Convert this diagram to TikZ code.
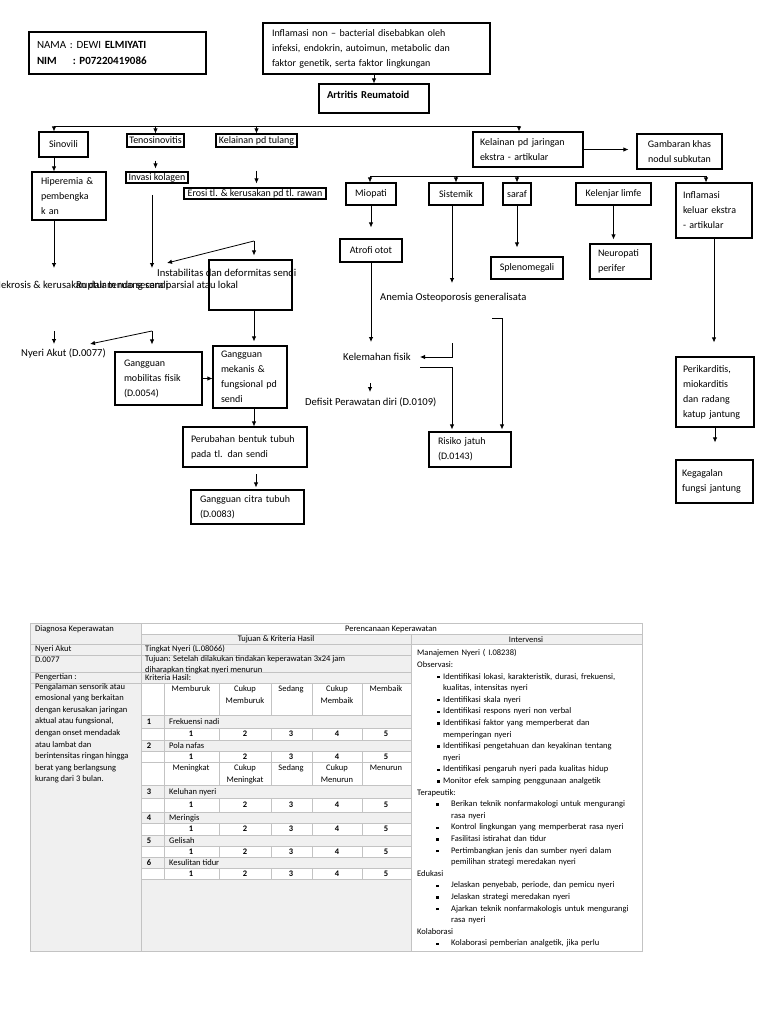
\documentclass[tikz,border=0pt]{standalone}
\usepackage{fontspec}
\setmainfont{Carlito}
\usetikzlibrary{arrows.meta,positioning}
\newcommand{\dfont}{\fontsize{10}{15}\selectfont}
\newcommand{\ffont}{\fontsize{10.6}{15}\selectfont}
\newcommand{\tfont}{\fontsize{8.5}{11.6}\selectfont}
\newcommand{\sqbul}{\rule[0.25ex]{2.4pt}{2.4pt}}
\newcommand{\obl}{\hspace*{20pt}\makebox[6pt][l]{\sqbul}}
\newcommand{\ocl}{\hspace*{26pt}}
\newcommand{\tbl}{\hspace*{19pt}\makebox[15pt][l]{\sqbul}}
\newcommand{\tcl}{\hspace*{34pt}}
\definecolor{cellgray}{RGB}{240,240,240}
\definecolor{gridgray}{RGB}{195,195,195}

\begin{document}
\begin{tikzpicture}[x=1pt,y=-1pt,>={Latex[length=5pt,width=4.5pt]},
    box/.style={draw, line width=1.1pt, inner ysep=0pt, font=\dfont},
    tight/.style={draw, line width=1.1pt, inner sep=0pt, font=\dfont},
    free/.style={inner sep=0pt, anchor=west, font=\ffont},
    link/.style={->, line width=0.8pt},
    cell/.style={inner sep=0pt, font=\tfont}]
    \useasboundingbox (0,0) rectangle (768,1024);
    \fill[white] (0,0) rectangle (768,1024);

    % boxes of the pathway
    \node(id) [box, font=\fontsize{11}{16}\selectfont, inner xsep=8pt, text width=161pt, minimum height=42pt, align=left] at (117.5,53) {NAMA : DEWI \textbf{ELMIYATI}\\\textbf{NIM\hspace{16pt}: P07220419086}};
    \node(cause) [box, inner xsep=9pt, text width=209pt, minimum height=51pt, align=left] at (376.5,48.5) {Inflamasi non – bacterial disebabkan oleh\\infeksi, endokrin, autoimun, metabolic dan\\faktor genetik, serta faktor lingkungan};
    \node(ra) [box, font=\fontsize{10.6}{15}\selectfont, inner xsep=8pt, text width=94pt, text depth=8pt, minimum height=29pt, align=left] at (374,98.5) {\textbf{Artritis Reumatoid}};
    \node(sinovili) [box, minimum width=49pt, minimum height=25pt] at (63.5,144.5) {Sinovili};
    \node(teno) [tight, minimum width=57pt, minimum height=13pt] at (155.5,140.5) {Tenosinovitis};
    \node(tulang) [tight, minimum width=81pt, minimum height=13pt] at (256.5,140.5) {Kelainan pd tulang};
    \node(jaringan) [box, inner xsep=7pt, text width=96pt, minimum height=35pt, align=left] at (528,149.5) {Kelainan pd jaringan\\ekstra - artikular};
    \node(nodul) [box, minimum width=85pt, minimum height=35pt, align=center] at (679.5,151.5) {Gambaran khas\\nodul subkutan};
    \node(hiper) [box, inner xsep=9pt, text width=56pt, minimum height=48pt, align=left] at (69,196) {Hiperemia \&\\pembengka\\k an};
    \node(invasi) [tight, minimum width=62pt, minimum height=11pt] at (157,177.5) {Invasi kolagen};
    \node(erosi) [tight, minimum width=142pt, minimum height=11pt] at (255,193.5) {Erosi tl. \& kerusakan pd tl. rawan};
    \node(instab) [draw, line width=1.1pt, minimum width=83pt, minimum height=50pt] at (250.5,285) {};
    \node(mobil) [box, inner xsep=9pt, text width=69pt, minimum height=53pt, align=left] at (158.5,378.5) {Gangguan\\mobilitas fisik\\(D.0054)};
    \node(mekanis) [box, inner xsep=8pt, text width=58pt, minimum height=62pt, align=left] at (250,377) {Gangguan\\mekanis \&\\fungsional pd\\sendi};
    \node(perubahan) [box, inner xsep=8pt, text width=108pt, minimum height=40pt, align=left] at (245,447) {Perubahan bentuk tubuh\\pada tl. dan sendi};
    \node(citra) [box, inner xsep=9pt, text width=95pt, minimum height=34pt, align=left] at (247.5,507) {Gangguan citra tubuh\\(D.0083)};
    \node(miopati) [box, minimum width=50pt, minimum height=22pt] at (371,194) {Miopati};
    \node(sistemik) [box, minimum width=54pt, minimum height=22pt] at (456,194) {Sistemik};
    \node(saraf) [box, minimum width=28pt, minimum height=22pt] at (517,194) {saraf};
    \node(limfe) [box, minimum width=75pt, minimum height=22pt] at (613.5,194) {Kelenjar limfe};
    \node(inflam) [box, inner xsep=7pt, text width=62pt, minimum height=55pt, align=left] at (714,210.5) {Inflamasi\\keluar ekstra\\- artikular};
    \node(atrofi) [box, minimum width=62pt, minimum height=23pt] at (371,250.5) {Atrofi otot};
    \node(spleno) [box, minimum width=72pt, minimum height=22pt] at (527,268) {Splenomegali};
    \node(neuro) [box, inner xsep=8pt, text width=45pt, minimum height=35pt, align=left] at (620.5,261.5) {Neuropati\\perifer};
    \node(risiko) [box, inner xsep=9pt, text width=64pt, minimum height=35pt, align=left] at (470,449.5) {Risiko jatuh\\(D.0143)};
    \node(peri) [box, inner xsep=7pt, text width=64pt, minimum height=70pt, align=left] at (715,392) {Perikarditis,\\miokarditis\\dan radang\\katup jantung};
    \node(gagal) [box, inner xsep=6pt, text width=65pt, minimum height=43pt, align=left] at (714.5,481.5) {Kegagalan\\fungsi jantung};

    % loose texts
    \node(nekrosis) [free] at (-6,286) {Nekrosis \& kerusakan dalam ruang sendi};
    \node(ruptur) [free] at (76,286) {Ruptur tendo secara parsial atau lokal};
    \node(instabtxt) [free] at (157,273) {Instabilitas dan deformitas sendi};
    \node(nyeri) [free] at (21,353) {Nyeri Akut (D.0077)};
    \node(anemia) [free] at (380,298) {Anemia Osteoporosis generalisata};
    \node(lemah) [free] at (343,357) {Kelemahan fisik};
    \node(defisit) [free] at (305,402) {Defisit Perawatan diri (D.0109)};

    \coordinate (busa) at (54,126);
    \coordinate (busb) at (519,126);
    \coordinate (busc) at (370,176);
    \coordinate (busd) at (706,176);
    \coordinate (fork) at (254,241);
    \coordinate (split) at (152,331);
    \coordinate (n1) at (54,268);
    \coordinate (n2) at (152,195);
    \coordinate (n3) at (152,268);
    \coordinate (n4) at (167,263);
    \coordinate (n5) at (54,331);
    \coordinate (n6) at (54,344);
    \coordinate (n7) at (90,344);
    \coordinate (n8) at (256,474);
    \coordinate (n9) at (370,342);
    \coordinate (n10) at (452,283);
    \coordinate (n11) at (420,357);
    \coordinate (n12) at (370,383);
    \coordinate (n13) at (370,392);
    \coordinate (m1) at (452,343);
    \coordinate (m2) at (452,357);
    \coordinate (m3) at (420,367);
    \coordinate (m4) at (492,318);
    \coordinate (m5) at (502,318);

    \draw[link] (cause.south -| ra.north) -- (ra.north);
    \draw[line width=0.8pt] (busa) -- (busb);
    \draw[link] (busa) -- (busa |- sinovili.north);
    \draw[link] (teno.north |- busa) -- (teno.north);
    \draw[link] (tulang.north |- busa) -- (tulang.north);
    \draw[link] (busb) -- (busb |- jaringan.north);
    \draw[link, shorten >=8pt] (jaringan.east) -- (jaringan.east -| nodul.west);
    \draw[link] (busa |- sinovili.south) -- (busa |- hiper.north);
    \draw[link, shorten <=13pt, shorten >=3pt] (teno.south) -- (teno.south |- invasi.north);
    \draw[link, shorten <=23pt, shorten >=4pt] (tulang.south) -- (tulang.south |- erosi.north);
    \draw[link] (busa |- hiper.south) -- (n1);
    \draw[link] (n2) -- (n3);
    \draw[link] (fork) -- (n4);
    \draw[link, shorten >=4pt] (fork) -- (fork |- instab.north);
    \draw[link, shorten >=4pt] (fork |- instab.south) -- (fork |- mekanis.north);
    \draw[link] (n5) -- (n6);
    \draw[link] (split) -- (n7);
    \draw[link, shorten >=7pt] (split) -- (split |- mobil.north);
    \draw[link] (mobil.east) -- (mobil.east -| mekanis.west);
    \draw[link] (fork |- mekanis.south) -- (fork |- perubahan.north);
    \draw[link, shorten >=2pt] (n8) -- (n8 |- citra.north);
    \draw[line width=0.8pt] (busc) -- (busd);
    \draw[link] (busc) -- (busc |- miopati.north);
    \draw[link] (sistemik.north |- busc) -- (sistemik.north);
    \draw[link] (saraf.north |- busc) -- (saraf.north);
    \draw[link] (busd) -- (busd |- inflam.north);
    \draw[link, shorten >=11pt] (miopati.south) -- (miopati.south |- atrofi.north);
    \draw[link] (atrofi.south) -- (atrofi.south |- n9);
    \draw[link] (n10 |- sistemik.south) -- (n10);
    \draw[link, shorten >=9pt] (saraf.south) -- (saraf.south |- spleno.north);
    \draw[link, shorten >=4pt] (limfe.south) -- (limfe.south |- neuro.north);
    \draw[link, shorten >=14pt] (inflam.south) -- (inflam.south |- peri.north);
    \draw[link, shorten >=17pt] (peri.south) -- (peri.south |- gagal.north);
    \draw[link] (m1) -- (m2) -- (n11);
    \draw[link, shorten >=2pt] (m3) -- (m3 -| m1) -- (m1 |- risiko.north);
    \draw[link, shorten >=2pt] (m4) -- (m5) -- (m5 |- risiko.north);
    \draw[link] (n12) -- (n13);

    % table
    \fill[cellgray] (30,623) rectangle (141,951);
    \fill[cellgray] (141,634) rectangle (642,644);
    \fill[cellgray] (141,644) rectangle (411,683);
    \foreach \a/\b in {715/728,740/751,785/798,812/823,835/846,857/868,879/951}
        \fill[cellgray] (141,\a) rectangle (411,\b);
    \begin{scope}[gridgray, line width=0.7pt]
        \draw (30,623) rectangle (642,951);
        \draw (141,623) -- (141,951);
        \draw (411,634) -- (411,951);
        \draw (141,634) -- (642,634);
        \draw (30,644) -- (642,644);
        \foreach \y in {655,672,683} \draw (30,\y) -- (411,\y);
        \foreach \y in {715,728,740,751,762,785,798,812,823,835,846,857,868,879} \draw (141,\y) -- (411,\y);
        \draw (164,683) -- (164,879);
        \foreach \a/\b in {683/715,728/740,751/785,798/812,823/835,846/857,868/879}
            \foreach \x in {219,271,312,362} \draw (\x,\a) -- (\x,\b);
    \end{scope}

    \node(diag) [cell, anchor=west] at (35,629) {Diagnosa Keperawatan};
    \node(plan) [cell] at (391,629) {Perencanaan Keperawatan};
    \node(goal) [cell] at (276,639.5) {Tujuan \& Kriteria Hasil};
    \node(interv) [cell] at (526,639.5) {Intervensi};
    \node(akut) [cell, anchor=west] at (35,649.5) {Nyeri Akut};
    \node(tingkat) [cell, anchor=west] at (145,649.5) {Tingkat Nyeri (L.08066)};
    \node(kode) [cell, anchor=west] at (35,660) {D.0077};
    \node(tujuan) [cell, font=\fontsize{8.5}{10.5}\selectfont, anchor=north west, align=left] at (145,655.8) {Tujuan: Setelah dilakukan tindakan keperawatan 3x24 jam\\diharapkan tingkat nyeri menurun};
    \node(arti) [cell, anchor=west] at (35,677.5) {Pengertian :};
    \node(krit) [cell, anchor=west] at (145,677.5) {Kriteria Hasil:};
    \node(def) [cell, anchor=north west, align=left] at (35,683) {Pengalaman sensorik atau\\emosional yang berkaitan\\dengan kerusakan jaringan\\aktual atau fungsional,\\dengan onset mendadak\\atau lambat dan\\berintensitas ringan hingga\\berat yang berlangsung\\kurang dari 3 bulan.};
    \foreach \x/\t [count=\i] in {191/Memburuk,245/{Cukup\\Memburuk},291/Sedang,337/{Cukup\\Membaik},386/Membaik}
        \node(ha\i) [cell, anchor=north, align=center] at (\x,685.5) {\t};
    \foreach \x/\t [count=\i] in {191/Meningkat,245/{Cukup\\Meningkat},291/Sedang,337/{Cukup\\Menurun},386/Menurun}
        \node(hb\i) [cell, anchor=north, align=center] at (\x,764.5) {\t};
    \foreach \n/\t/\y in {1/Frekuensi nadi/722,2/Pola nafas/746,3/Keluhan nyeri/792,4/Meringis/818,5/Gelisah/841,6/Kesulitan tidur/863} {
        \node(k\n) [cell] at (149,\y) {\textbf{\n}};
        \node(kt\n) [cell, anchor=west] at (169,\y) {\t};
    }
    \foreach \y [count=\j] in {734,757,805,829,852,874}
        \foreach \x/\v in {191/1,245/2,291/3,337/4,386/5}
            \node(s\j\v) [cell, font=\tfont\bfseries] at (\x,\y) {\v};
    \node(list) [cell, anchor=north west, align=left, text width=222pt] at (417,649.5) {Manajemen Nyeri ( I.08238)\\
        Observasi:\\
        \obl Identifikasi lokasi, karakteristik, durasi, frekuensi,\\
        \ocl kualitas, intensitas nyeri\\
        \obl Identifikasi skala nyeri\\
        \obl Identifikasi respons nyeri non verbal\\
        \obl Identifikasi faktor yang memperberat dan\\
        \ocl memperingan nyeri\\
        \obl Identifikasi pengetahuan dan keyakinan tentang\\
        \ocl nyeri\\
        \obl Identifikasi pengaruh nyeri pada kualitas hidup\\
        \obl Monitor efek samping penggunaan analgetik\\
        Terapeutik:\\
        \tbl Berikan teknik nonfarmakologi untuk mengurangi\\
        \tcl rasa nyeri\\
        \tbl Kontrol lingkungan yang memperberat rasa nyeri\\
        \tbl Fasilitasi istirahat dan tidur\\
        \tbl Pertimbangkan jenis dan sumber nyeri dalam\\
        \tcl pemilihan strategi meredakan nyeri\\
        Edukasi\\
        \tbl Jelaskan penyebab, periode, dan pemicu nyeri\\
        \tbl Jelaskan strategi meredakan nyeri\\
        \tbl Ajarkan teknik nonfarmakologis untuk mengurangi\\
        \tcl rasa nyeri\\
        Kolaborasi\\
        \tbl Kolaborasi pemberian analgetik, jika perlu};
\end{tikzpicture}
\end{document}
